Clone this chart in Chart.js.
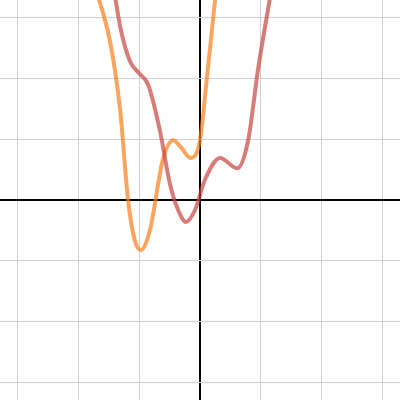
<!DOCTYPE html>
<html><head><script src="https://cdn.jsdelivr.net/npm/chart.js@4"></script>
<style>html,body{margin:0;padding:0;background:#fff}#w{width:400px;height:400px}</style></head>
<body><div id="w"><canvas id="c"></canvas></div>
<script>
const orangeX=[-1.72,-1.48,-1.31,-1.18,-1.07,-0.97,-0.82,-0.61,-0.44,-0.30,-0.16,0,0.11,0.27];
const orangeY=[3.5,2.62,1.48,0,-0.66,-0.82,-0.49,0.66,0.98,0.85,0.69,0.98,1.97,3.5];
const redX=[-1.42,-1.30,-1.15,-1.0,-0.85,-0.66,-0.49,-0.36,-0.23,-0.08,0.08,0.33,0.61,0.79,0.95,1.18];
const redY=[3.5,2.8,2.28,2.08,1.89,1.15,0.25,-0.16,-0.36,-0.16,0.33,0.69,0.52,0.98,2.13,3.5];
const pts=(xs,ys)=>xs.map((x,i)=>({x,y:ys[i]}));
const axis={min:-3.28,max:3.28,ticks:{display:false,stepSize:1},border:{display:false},
 grid:{color:c=>c.tick&&c.tick.value===0?'#000':'#d0d0d0',lineWidth:c=>c.tick&&c.tick.value===0?2:1,drawTicks:false}};
new Chart(document.getElementById('c'),{type:'scatter',
data:{datasets:[
{data:pts(redX,redY),showLine:true,borderColor:'rgba(199,68,64,0.7)',borderWidth:4,pointRadius:0,cubicInterpolationMode:'monotone'},
{data:pts(orangeX,orangeY),showLine:true,borderColor:'rgba(250,126,25,0.7)',borderWidth:4,pointRadius:0,cubicInterpolationMode:'monotone'}]},
options:{responsive:true,maintainAspectRatio:false,animation:false,layout:{padding:0},
plugins:{legend:{display:false},tooltip:{enabled:false}},
scales:{x:{...axis,afterBuildTicks:a=>{a.ticks=[-3,-2,-1,0,1,2,3].map(v=>({value:v}))}},
y:{...axis,afterBuildTicks:a=>{a.ticks=[-3,-2,-1,0,1,2,3].map(v=>({value:v}))}}}}});
</script></body></html>
